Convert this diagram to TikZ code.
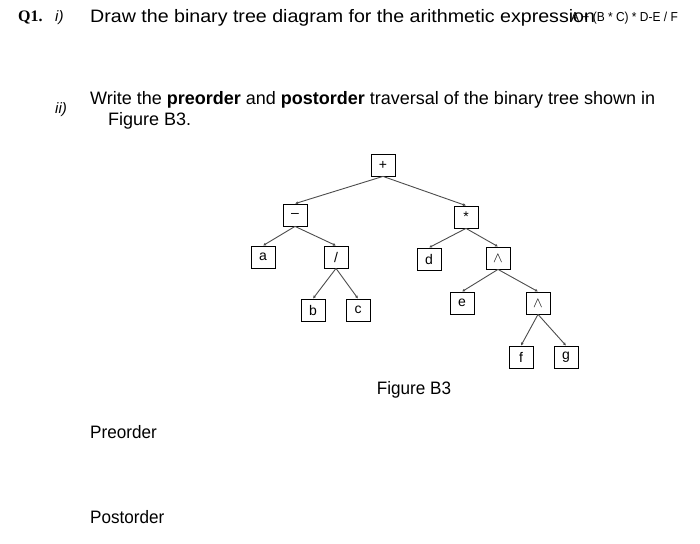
\documentclass[tikz,border=0pt]{standalone}
\usepackage{fontspec}
\usetikzlibrary{arrows.meta}
\setmainfont{Liberation Sans}
\newfontfamily\serifq{Liberation Serif}
\begin{document}
\begin{tikzpicture}[x=1pt,y=-1pt,
  box/.style={draw,thick,minimum width=24pt,minimum height=22pt,inner sep=0pt,font=\fontsize{14}{14}\selectfont},
  edge/.style={draw=black!70,line width=0.9pt,-{Latex[length=3pt,width=3pt]}},
  txt/.style={anchor=west,inner sep=0pt,font=\fontsize{18}{20}\selectfont}]
\useasboundingbox (0,0) rectangle (700,543);
\node[anchor=west,inner sep=0pt,font=\serifq\bfseries\fontsize{16}{18}\selectfont] (q1) at (18,18) {Q1.};
\node[txt,font=\itshape\fontsize{15}{18}\selectfont] (i) at (55,18) {i)};
\node[txt,xscale=1.09] (l1) at (90,18) {Draw the binary tree diagram for the arithmetic expression};
\node[txt,font=\fontsize{13}{16}\selectfont,xscale=0.92] (ex) at (571,18) {A + (B * C) * D-E / F};
\node[txt,font=\itshape\fontsize{15}{18}\selectfont] (ii) at (55,110) {ii)};
\node[txt] (l2) at (90,100) {Write the \textbf{preorder} and \textbf{postorder} traversal of the binary tree shown in};
\node[txt] (l3) at (108,121) {Figure B3.};
\node[box] (p) at (383,165) {+};
\node[box] (m) at (295,215) {--};
\node[box] (s) at (466,217) {*};
\node[box] (a) at (263,257) {a};
\node[box] (dv) at (336,257) {/};
\node[box] (d) at (429,259) {d};
\node[box] (c1) at (498,258) {$\wedge$};
\node[box] (b) at (313,310) {b};
\node[box] (c) at (358,310) {c};
\node[box] (e) at (462,303) {e};
\node[box] (c2) at (538,303) {$\wedge$};
\node[box] (f) at (521,357) {f};
\node[box] (g) at (566,357) {g};
\foreach \u/\v in {p/m,p/s,m/a,m/dv,dv/b,dv/c,s/d,s/c1,c1/e,c1/c2,c2/f,c2/g}
  \draw[edge] (\u.south) -- (\v.north);
\node[font=\fontsize{18}{20}\selectfont,xscale=0.95] (cap) at (414,390) {Figure B3};
\node[txt,xscale=0.95] (pre) at (90,432) {Preorder};
\node[txt,xscale=0.95] (post) at (90,517) {Postorder};
\end{tikzpicture}
\end{document}
